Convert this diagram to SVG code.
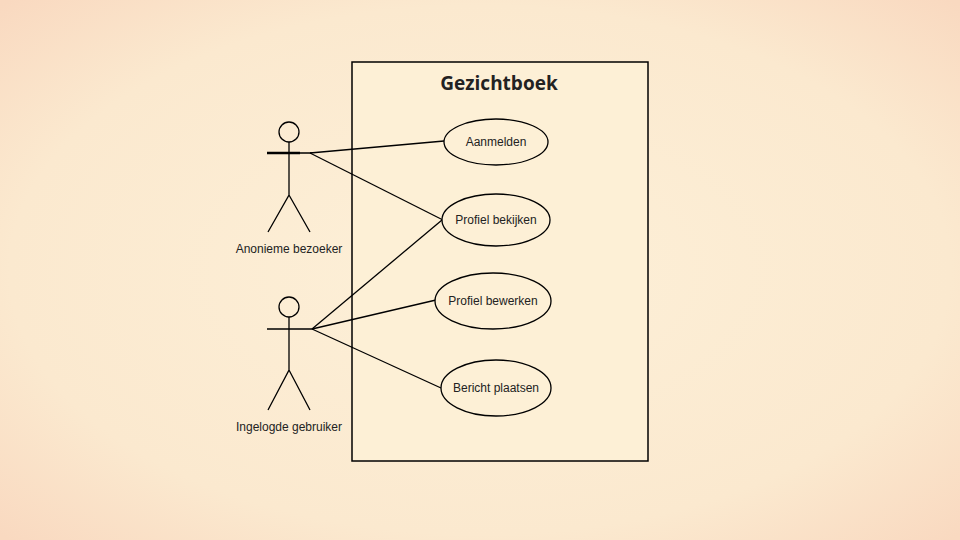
<svg xmlns="http://www.w3.org/2000/svg" width="960" height="540" viewBox="0 0 960 540">
<defs>
<radialGradient id="bg" cx="50%" cy="50%" r="70%">
<stop offset="0" stop-color="#fdf0d8"/><stop offset="0.7" stop-color="#fbe9cf"/><stop offset="1" stop-color="#f9d9c0"/>
</radialGradient>
<style>
.s{fill:none;stroke:#000;stroke-width:1.3}
.e{fill:#fdf0d6;stroke:#000;stroke-width:1.3}
.t{font-family:"Liberation Sans",Arial,sans-serif;font-size:12px;fill:#222;text-anchor:middle}
</style>
</defs>
<rect width="960" height="540" fill="url(#bg)"/>
<g id="system"><rect x="352" y="62" width="296" height="399" fill="#fdf0d6" stroke="#000" stroke-width="1.5"/>
<text x="499" y="90" font-family="Open Sans,sans-serif" font-size="19" font-weight="bold" text-anchor="middle" fill="#222">Gezichtboek</text></g>
<g id="connectors" class="s">
<line x1="310" y1="153" x2="444" y2="141"/>
<line x1="310" y1="153" x2="443" y2="220"/>
<line x1="312" y1="329" x2="442" y2="220"/>
<line x1="312" y1="329" x2="436" y2="300"/>
<line x1="312" y1="329" x2="441" y2="388"/>
</g>
<g id="actor1"><circle class="s" cx="289" cy="132" r="10"/><path class="s" d="M267 153H312M289 142V195L268 232M289 195L310 232"/><path d="M267 153H300" stroke="#000" stroke-width="2.5"/>
<text class="t" x="289" y="253" font-size="11.5">Anonieme bezoeker</text></g>
<g id="actor2"><circle class="s" cx="289" cy="307" r="10"/><path class="s" d="M267 329H312M289 317V370L268 410M289 370L310 410"/>
<text class="t" x="289" y="431" font-size="11.5">Ingelogde gebruiker</text></g>
<g id="uc1"><ellipse class="e" cx="496" cy="142" rx="52" ry="23"/><text class="t" x="496" y="146">Aanmelden</text></g>
<g id="uc2"><ellipse class="e" cx="496" cy="220" rx="54" ry="26"/><text class="t" x="496" y="224">Profiel bekijken</text></g>
<g id="uc3"><ellipse class="e" cx="493" cy="301" rx="58" ry="28"/><text class="t" x="493" y="305">Profiel bewerken</text></g>
<g id="uc4"><ellipse class="e" cx="496" cy="388" rx="55" ry="28"/><text class="t" x="496" y="392">Bericht plaatsen</text></g>
</svg>
